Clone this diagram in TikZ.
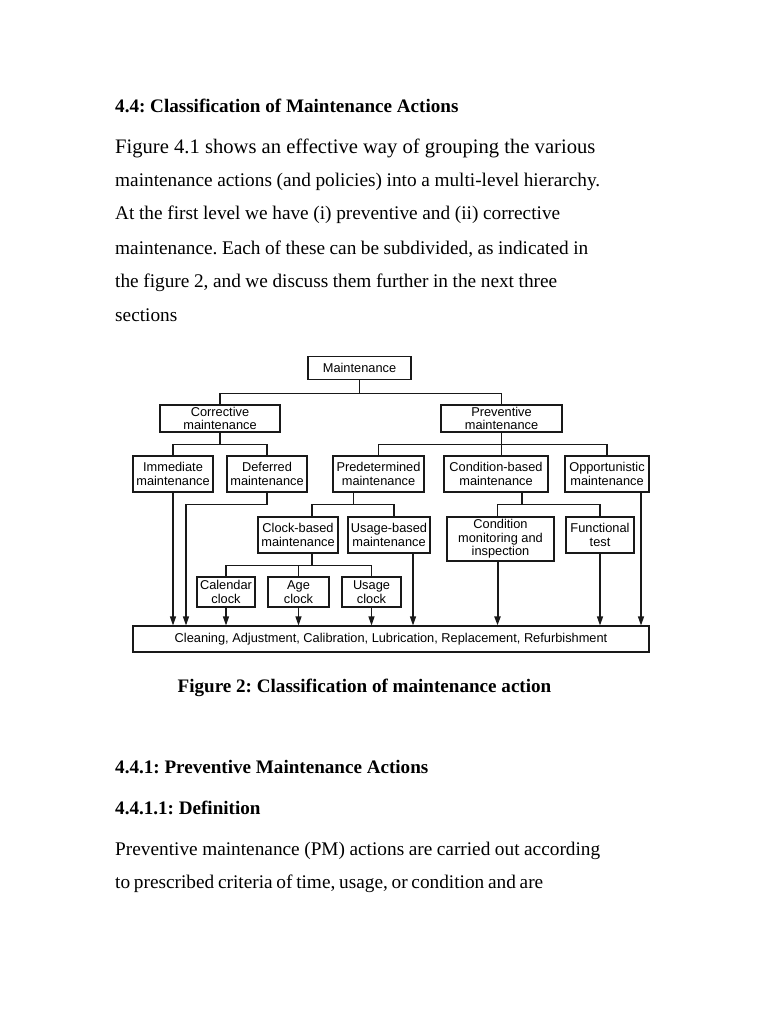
\documentclass[tikz,border=0pt]{standalone}
\usepackage{fontspec}
\setmainfont{Liberation Serif}
\newfontfamily\diagfont{Liberation Sans}
\usetikzlibrary{arrows.meta}
\frenchspacing
\newcommand{\linew}[2]{\hbox to #1pt{#2}}
\begin{document}
\begin{tikzpicture}[x=1pt,y=-1pt,
  box/.style={draw=black!90, line width=1.1pt, align=center, inner sep=0pt,
    font=\diagfont\fontsize{12.8}{13.6}\selectfont},
  link/.style={draw=black!90, line width=1.1pt},
  arr/.style={link, -{Triangle[length=9pt,width=6pt]}},
  body/.style={anchor=base west, inner sep=0pt, font=\fontsize{19.3}{24}\selectfont},
  head/.style={anchor=base west, inner sep=0pt, font=\bfseries\fontsize{19.1}{23}\selectfont}]
\useasboundingbox[fill=white] (0,0) rectangle (768,1024);

% ---- text above
\node[head] (h1) at (115,113) {4.4: Classification of Maintenance Actions};
\node[body, font=\fontsize{20.6}{24}\selectfont] (b1) at (115,154) {Figure 4.1 shows an effective way of grouping the various};
\node[body] (b2) at (115,187) {\linew{485}{maintenance actions (and policies) into a multi-level hierarchy.}};
\node[body] (b3) at (115,220) {\linew{445}{At the first level we have (i) preventive and (ii) corrective}};
\node[body] (b4) at (115,254) {\linew{473}{maintenance. Each of these can be subdivided, as indicated in}};
\node[body] (b5) at (115,287) {\linew{442}{the figure 2, and we discuss them further in the next three}};
\node[body] (b6) at (115,321) {sections};

% ---- diagram boxes
\node[box, minimum width=103pt, minimum height=23pt] (maint) at (359.5,368) {Maintenance};
\node[box, minimum width=120pt, minimum height=27pt] (corr) at (220,418.5) {Corrective\\maintenance};
\node[box, minimum width=121pt, minimum height=27pt] (prev) at (501.5,418.5) {Preventive\\maintenance};

\node[box, minimum width=80pt, minimum height=36pt] (imm) at (173,474) {Immediate\\maintenance};
\node[box, minimum width=80pt, minimum height=36pt] (def) at (267,474) {Deferred\\maintenance};
\node[box, minimum width=91pt, minimum height=36pt] (pred) at (378.5,474) {Predetermined\\maintenance};
\node[box, minimum width=104pt, minimum height=36pt] (cond) at (496,474) {Condition-based\\maintenance};
\node[box, minimum width=84pt, minimum height=36pt] (opp) at (607,474) {Opportunistic\\maintenance};

\node[box, minimum width=80pt, minimum height=36pt] (clock) at (298,535) {Clock-based\\maintenance};
\node[box, minimum width=82pt, minimum height=36pt] (usage) at (389,535) {Usage-based\\maintenance};
\node[box, minimum width=107pt, minimum height=44pt] (cm) at (500.5,539) {Condition\\monitoring and\\inspection};
\node[box, minimum width=68pt, minimum height=36pt] (ft) at (600,535) {Functional\\test};

\node[box, minimum width=58pt, minimum height=30pt] (cal) at (226,592) {Calendar\\clock};
\node[box, minimum width=61pt, minimum height=30pt] (age) at (298.5,592) {Age\\clock};
\node[box, minimum width=59pt, minimum height=30pt] (uclock) at (371.5,592) {Usage\\clock};

\node[box, minimum width=516pt, minimum height=26pt] (bot) at (391,639) {Cleaning, Adjustment, Calibration, Lubrication, Replacement, Refurbishment};

% ---- tree connectors
\draw[link] (maint.south) -- ++(0,13) coordinate (mj);
\draw[link] (corr.north) |- (mj) -| (prev.north);

\draw[link] (corr.south) -- ++(0,12) coordinate (cj);
\draw[link] (imm.north) |- (cj) -| (def.north);

\draw[link] (prev.south) -- (prev.south |- cond.north);
\draw[link] (prev.south) -- ++(0,12) coordinate (pj);
\draw[link] (pred.north) |- (pj) -| (opp.north);

\draw[link] ([xshift=-25pt]pred.south) -- ++(0,12) coordinate (qj);
\draw[link] ([xshift=14pt]clock.north) |- (qj) -| ([xshift=5pt]usage.north);

\draw[link] ([xshift=14pt]clock.south) -- ++(0,12) coordinate (kj);
\draw[link] (cal.north) |- (kj) -| (uclock.north);
\draw[link] (age.north) -- (age.north |- kj);

\draw[link] ([xshift=26pt]cond.south) -- ++(0,12) coordinate (rj);
\draw[link] ([xshift=-3pt]cm.north) |- (rj) -| (ft.north);

% ---- arrows to the actions box
\coordinate (dx) at (186,600);
\draw[arr] (imm.south) -- (imm.south |- bot.north);
\draw[arr] (def.south) -- ++(0,12) -| (dx |- bot.north);
\draw[arr] (cal.south) -- (cal.south |- bot.north);
\draw[arr] (age.south) -- (age.south |- bot.north);
\draw[arr] (uclock.south) -- (uclock.south |- bot.north);
\draw[arr] ([xshift=24pt]usage.south) -- ([xshift=24pt]usage.south |- bot.north);
\draw[arr, line width=2pt] ([xshift=-3pt]cm.south) -- ([xshift=-3pt]cm.south |- bot.north);
\draw[arr] (ft.south) -- (ft.south |- bot.north);
\draw[arr] ([xshift=34pt]opp.south) -- ([xshift=34pt]opp.south |- bot.north);

% ---- text below
\node[anchor=base, inner sep=0pt, font=\bfseries\fontsize{19.1}{23}\selectfont] (cap) at (364.5,692) {Figure 2: Classification of maintenance action};
\node[head] (h2) at (115,773) {4.4.1: Preventive Maintenance Actions};
\node[head] (h3) at (115,814) {4.4.1.1: Definition};
\node[body] (b7) at (115,855) {\linew{485}{Preventive maintenance (PM) actions are carried out according}};
\node[body] (b8) at (115,888) {\linew{428}{to prescribed criteria of time, usage, or condition and are}};
\end{tikzpicture}
\end{document}
